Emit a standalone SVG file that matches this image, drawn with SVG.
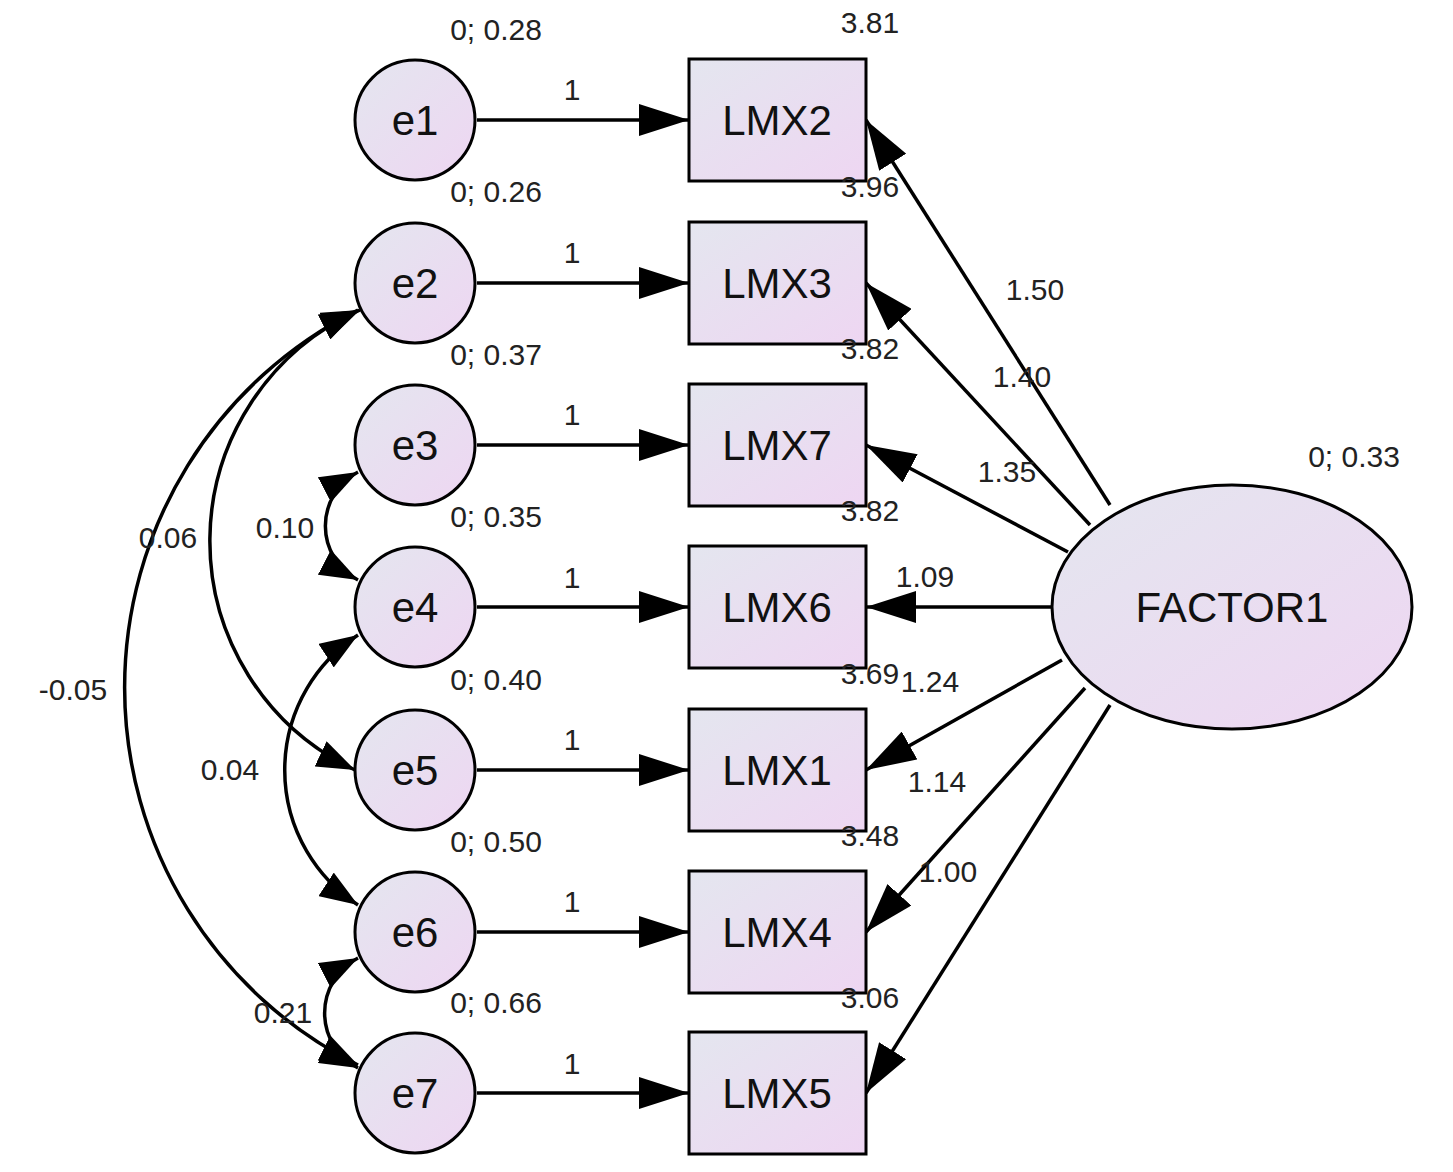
<svg xmlns="http://www.w3.org/2000/svg" width="1453" height="1172" viewBox="0 0 1453 1172">
<style>
.t{font-family:"Liberation Sans",Arial,sans-serif;font-size:30px;fill:#222;text-anchor:middle}
.n{font-family:"Liberation Sans",Arial,sans-serif;font-size:42px;fill:#111;text-anchor:middle}
.s{fill:url(#g);stroke:#000;stroke-width:3}
#c path,#c line{stroke:#000;stroke-width:3.5;fill:none}
</style>
<defs>
<linearGradient id="g" x1="0" y1="0" x2="1" y2="1"><stop offset="0" stop-color="#e4e6ef"/><stop offset="1" stop-color="#eed6f2"/></linearGradient>
<marker id="a" markerUnits="userSpaceOnUse" markerWidth="52" markerHeight="32" refX="50" refY="16" orient="auto-start-reverse"><path d="M0,0 L50,16 L0,32 Z" fill="#000"/></marker>
<marker id="b" markerUnits="userSpaceOnUse" markerWidth="40" markerHeight="28" refX="38" refY="14" orient="auto-start-reverse"><path d="M0,0 L38,14 L0,28 Z" fill="#000"/></marker>
</defs>
<g id="c">
<line x1="477" y1="120" x2="689" y2="120" marker-end="url(#a)"/>
<line x1="477" y1="283" x2="689" y2="283" marker-end="url(#a)"/>
<line x1="477" y1="445" x2="689" y2="445" marker-end="url(#a)"/>
<line x1="477" y1="607" x2="689" y2="607" marker-end="url(#a)"/>
<line x1="477" y1="770" x2="689" y2="770" marker-end="url(#a)"/>
<line x1="477" y1="932" x2="689" y2="932" marker-end="url(#a)"/>
<line x1="477" y1="1093" x2="689" y2="1093" marker-end="url(#a)"/>
<line x1="1110" y1="505" x2="866" y2="120" marker-end="url(#a)"/>
<line x1="1090" y1="525" x2="866" y2="283" marker-end="url(#a)"/>
<line x1="1068" y1="552" x2="866" y2="445" marker-end="url(#a)"/>
<line x1="1052" y1="607" x2="866" y2="607" marker-end="url(#a)"/>
<line x1="1062" y1="660" x2="866" y2="770" marker-end="url(#a)"/>
<line x1="1085" y1="688" x2="866" y2="932" marker-end="url(#a)"/>
<line x1="1110" y1="705" x2="866" y2="1093" marker-end="url(#a)"/>
<path d="M358,310 A422,422 0 0 0 358,1065" marker-start="url(#b)" marker-end="url(#b)"/>
<path d="M360,310 A253,253 0 0 0 355,770" marker-start="url(#b)" marker-end="url(#b)"/>
<path d="M358,472 A61,61 0 0 0 358,580" marker-start="url(#b)" marker-end="url(#b)"/>
<path d="M358,635 A161,161 0 0 0 358,905" marker-start="url(#b)" marker-end="url(#b)"/>
<path d="M358,958 A62,62 0 0 0 358,1068" marker-start="url(#b)" marker-end="url(#b)"/>
</g>
<g id="e1"><circle class="s" cx="415" cy="120" r="60"/><text class="n" x="415" y="135">e1</text></g>
<g id="e2"><circle class="s" cx="415" cy="283" r="60"/><text class="n" x="415" y="298">e2</text></g>
<g id="e3"><circle class="s" cx="415" cy="445" r="60"/><text class="n" x="415" y="460">e3</text></g>
<g id="e4"><circle class="s" cx="415" cy="607" r="60"/><text class="n" x="415" y="622">e4</text></g>
<g id="e5"><circle class="s" cx="415" cy="770" r="60"/><text class="n" x="415" y="785">e5</text></g>
<g id="e6"><circle class="s" cx="415" cy="932" r="60"/><text class="n" x="415" y="947">e6</text></g>
<g id="e7"><circle class="s" cx="415" cy="1093" r="60"/><text class="n" x="415" y="1108">e7</text></g>
<g id="LMX2"><rect class="s" x="689" y="59" width="177" height="122"/><text class="n" x="777" y="135">LMX2</text></g>
<g id="LMX3"><rect class="s" x="689" y="222" width="177" height="122"/><text class="n" x="777" y="298">LMX3</text></g>
<g id="LMX7"><rect class="s" x="689" y="384" width="177" height="122"/><text class="n" x="777" y="460">LMX7</text></g>
<g id="LMX6"><rect class="s" x="689" y="546" width="177" height="122"/><text class="n" x="777" y="622">LMX6</text></g>
<g id="LMX1"><rect class="s" x="689" y="709" width="177" height="122"/><text class="n" x="777" y="785">LMX1</text></g>
<g id="LMX4"><rect class="s" x="689" y="871" width="177" height="122"/><text class="n" x="777" y="947">LMX4</text></g>
<g id="LMX5"><rect class="s" x="689" y="1032" width="177" height="122"/><text class="n" x="777" y="1108">LMX5</text></g>
<g id="FACTOR1"><ellipse class="s" cx="1232" cy="607" rx="180" ry="122"/><text class="n" x="1232" y="622">FACTOR1</text></g>
<g id="labels">
<text class="t" x="496" y="40">0; 0.28</text><text class="t" x="496" y="202">0; 0.26</text><text class="t" x="496" y="365">0; 0.37</text><text class="t" x="496" y="527">0; 0.35</text><text class="t" x="496" y="690">0; 0.40</text><text class="t" x="496" y="852">0; 0.50</text><text class="t" x="496" y="1013">0; 0.66</text>
<text class="t" x="572" y="100">1</text><text class="t" x="572" y="263">1</text><text class="t" x="572" y="425">1</text><text class="t" x="572" y="588">1</text><text class="t" x="572" y="750">1</text><text class="t" x="572" y="912">1</text><text class="t" x="572" y="1074">1</text>
<text class="t" x="870" y="33">3.81</text><text class="t" x="870" y="197">3.96</text><text class="t" x="870" y="359">3.82</text><text class="t" x="870" y="521">3.82</text><text class="t" x="870" y="684">3.69</text><text class="t" x="870" y="846">3.48</text><text class="t" x="870" y="1008">3.06</text>
<text class="t" x="1035" y="300">1.50</text><text class="t" x="1022" y="387">1.40</text><text class="t" x="1007" y="482">1.35</text><text class="t" x="925" y="587">1.09</text><text class="t" x="930" y="692">1.24</text><text class="t" x="937" y="792">1.14</text><text class="t" x="948" y="882">1.00</text>
<text class="t" x="1354" y="467">0; 0.33</text>
<text class="t" x="168" y="548">0.06</text><text class="t" x="285" y="538">0.10</text><text class="t" x="73" y="700">-0.05</text><text class="t" x="230" y="780">0.04</text><text class="t" x="283" y="1023">0.21</text>
</g>
</svg>
